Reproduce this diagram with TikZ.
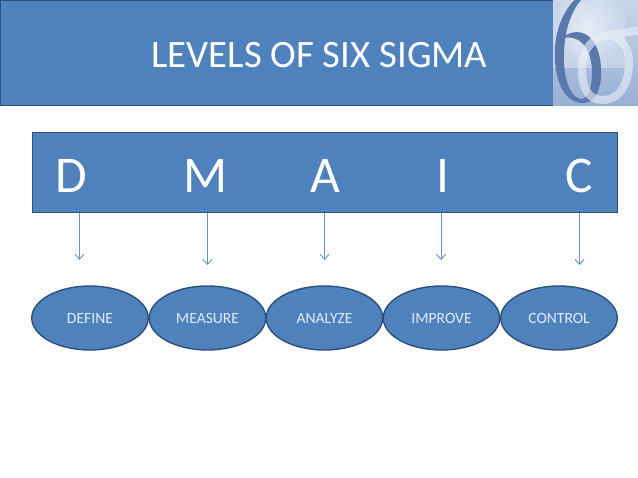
\documentclass[tikz,border=0pt]{standalone}
\usepackage{fontspec}
\setmainfont{Carlito}
\definecolor{fillblue}{RGB}{79,129,189}
\definecolor{edgeblue}{RGB}{45,80,125}
\definecolor{arrowblue}{RGB}{105,146,192}
\definecolor{ovaltext}{RGB}{225,236,248}
\definecolor{logolight}{RGB}{236,241,248}
\definecolor{logomid}{RGB}{165,187,220}
\definecolor{logodark}{RGB}{70,105,160}
\tikzset{
  x=1pt,y=-1pt,
  bar/.style={draw=edgeblue,line width=0.9pt,fill=fillblue,minimum width=#1,inner sep=0pt,anchor=north west},
  oval/.style={ellipse,draw=edgeblue,line width=1.4pt,fill=fillblue,minimum width=116.5pt,minimum height=64pt,inner sep=0pt,text=ovaltext,font=\fontsize{15.6}{17}\selectfont},
  letter/.style={text=white,font=\fontsize{51.5}{55}\selectfont,inner sep=0pt},
  drop/.style={draw=arrowblue,line width=0.9pt,-{Straight Barb[length=5pt,width=9pt]}},
}
\usetikzlibrary{shapes.geometric,arrows.meta}
\begin{document}
\begin{tikzpicture}
\useasboundingbox (0,0) rectangle (638,478);
\fill[white] (0,0) rectangle (638,478);
% header
\node[bar=638pt,minimum height=105pt] (header) at (0,0.5) {};
\node[text=white,font=\fontsize{38.8}{42}\selectfont,inner sep=0pt] (title) at (319.5,55) {LEVELS OF SIX SIGMA};
% logo
\begin{scope}
\clip (553,0) rectangle (638,106);
\shade[top color=logomid!60!white,bottom color=logomid!85!logodark] (553,0) rectangle (638,106);
\shade[inner color=logolight,outer color=logomid!60!white,opacity=0.9] (550,-12) rectangle (625,68);
\fill[logodark!80!logomid] (578,-3) .. controls (562,10) and (553,35) .. (555,62)
   .. controls (557,88) and (568,104) .. (584,103)
   .. controls (598,102) and (602,84) .. (601,68)
   .. controls (600,46) and (590,32) .. (577,32)
   .. controls (570,32) and (565,35) .. (561,41)
   .. controls (564,36) and (570,37) .. (576,39)
   .. controls (586,43) and (592,56) .. (592,72)
   .. controls (592,86) and (589,98) .. (582,99)
   .. controls (572,99) and (565,84) .. (564,62)
   .. controls (563,35) and (570,10) .. (584,-3) -- cycle;
\draw[logolight,opacity=0.6,line width=8pt] (642,30) -- (610,35)
   .. controls (592,36) and (582,50) .. (582,70)
   .. controls (582,90) and (590,100) .. (602,100)
   .. controls (622,100) and (629,80) .. (629,62)
   .. controls (629,48) and (622,38) .. (610,35);
\end{scope}
% DMAIC bar
\node[bar=585pt,minimum height=80pt] (dmaic) at (32,132.5) {};
\node[letter] (d) at (71,176) {D};
\node[letter] (m) at (205.5,176) {M};
\node[letter] (a) at (325,176) {A};
\node[letter] (i) at (443,176) {I};
\node[letter] (c) at (579.5,176) {C};
% ovals
\node[oval] (define) at (90,318) {DEFINE};
\node[oval] (measure) at (207.5,318) {MEASURE};
\node[oval] (analyze) at (324.5,318) {ANALYZE};
\node[oval] (improve) at (441.5,318) {IMPROVE};
\node[oval] (control) at (559,318) {CONTROL};
% arrow ends
\coordinate (e1) at (79.5,260);
\coordinate (e2) at (207.5,265);
\coordinate (e3) at (324.5,260);
\coordinate (e4) at (441,260);
\coordinate (e5) at (579.5,265);
\draw[drop] (dmaic.south west -| e1) -- (e1);
\draw[drop] (dmaic.south west -| e2) -- (e2);
\draw[drop] (dmaic.south west -| e3) -- (e3);
\draw[drop] (dmaic.south west -| e4) -- (e4);
\draw[drop] (dmaic.south west -| e5) -- (e5);
\end{tikzpicture}
\end{document}
